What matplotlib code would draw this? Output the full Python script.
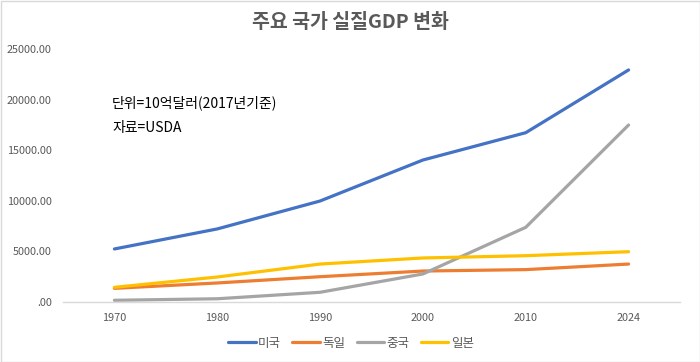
import matplotlib
matplotlib.use("Agg")
import matplotlib.pyplot as plt
from matplotlib.patches import Rectangle
from matplotlib.ticker import FuncFormatter

plt.rcParams['font.family'] = ['Noto Sans CJK KR', 'DejaVu Sans']

years = ["1970", "1980", "1990", "2000", "2010", "2024"]
usa = [5240, 7220, 9980, 14030, 16730, 22930]
germany = [1350, 1880, 2500, 3060, 3200, 3750]
china = [170, 320, 960, 2770, 7380, 17490]
japan = [1450, 2470, 3750, 4350, 4575, 4970]

series = [("미국", usa, "#4472C4"), ("독일", germany, "#ED7D31"),
          ("중국", china, "#A5A5A5"), ("일본", japan, "#FFC000")]

fig = plt.figure(figsize=(7.0, 3.62), dpi=100)
ax = fig.add_axes([63/700, 1-302/362, 617/700, 253/362])
x = list(range(len(years)))
for name, vals, col in series:
    ax.plot(x, vals, color=col, lw=2.3, label=name, solid_capstyle='round')

ax.set_xlim(-0.5, len(years)-0.5)
ax.set_ylim(0, 25000)
ax.set_yticks(range(0, 25001, 5000))
def fmt(v, pos):
    s = f"{v:.2f}"
    if s.startswith("0"):
        s = s[1:]
    return s
ax.yaxis.set_major_formatter(FuncFormatter(fmt))
ax.set_xticks(x)
ax.set_xticklabels(years)
for sp in ["top", "right", "left"]:
    ax.spines[sp].set_visible(False)
ax.spines["bottom"].set_color("#D9D9D9")
ax.spines["bottom"].set_linewidth(1)
ax.tick_params(axis='both', length=0, labelsize=7.8, colors="#595959")
ax.tick_params(axis='x', pad=8)
ax.tick_params(axis='y', pad=8)

fig.text(0.5, 1-22/362, "주요 국가 실질GDP 변화", ha='center', va='center',
         fontsize=14, fontweight='bold', color="#595959")
fig.text(112/700, 1-103/362, "단위=10억달러(2017년기준)", ha='left', va='center',
         fontsize=10, color="black")
fig.text(112/700, 1-128/362, "자료=USDA", ha='left', va='center',
         fontsize=10, color="black")

leg = fig.legend(loc='center', bbox_to_anchor=(351/700, 1-343/362), ncol=4,
                 frameon=False, fontsize=9, handlelength=2.2, handletextpad=0.2,
                 columnspacing=0.9, labelcolor="#595959")

fig.patches.append(Rectangle((0.5/700, 0.5/362), 1-1/700, 1-1/362,
                             transform=fig.transFigure, fill=False,
                             edgecolor="#D9D9D9", lw=1))

fig.savefig("out.png", dpi=100)
